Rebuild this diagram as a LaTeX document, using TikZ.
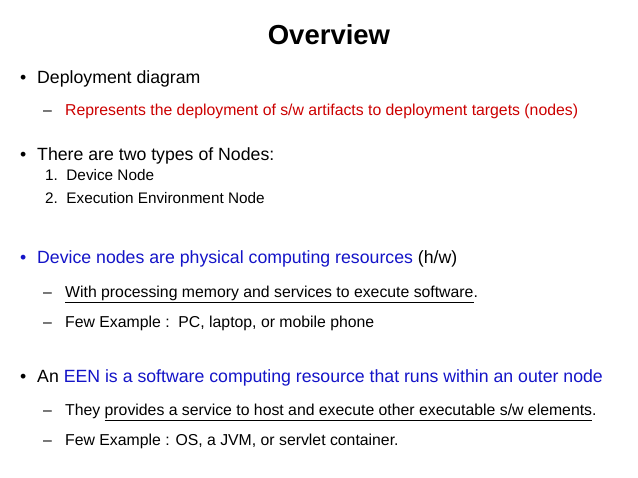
\documentclass[tikz,border=0pt]{standalone}
\usepackage{fontspec}
\setmainfont{Liberation Sans}
\definecolor{tred}{RGB}{204,0,0}
\definecolor{tblue}{RGB}{20,20,200}
\begin{document}
\begin{tikzpicture}[x=1pt,y=-1pt,
  txt/.style={anchor=base west,inner sep=0pt},
  big/.style={txt,font=\fontsize{17.7}{20}\selectfont},
  sub/.style={txt,font=\fontsize{15.8}{18}\selectfont},
  num/.style={txt,font=\fontsize{15.3}{18}\selectfont}]
\useasboundingbox (0,0) rectangle (638,478);
\fill[white] (0,0) rectangle (638,478);
\node[txt,anchor=base,font=\fontsize{27.5}{30}\selectfont\bfseries] (title) at (329,45) {Overview};
\node[big] (b1) at (20,84) {•};
\node[big] (t1) at (37,84) {Deployment diagram};
\node[sub] (d1) at (43,116) {–};
\node[sub,text=tred] (s1) at (65,116) {Represents the deployment of s/w artifacts to deployment targets (nodes)};
\node[big] (b2) at (20,161) {•};
\node[big] (t2) at (37,161) {There are two types of Nodes:};
\node[num] (n1) at (45,181) {1.\ \ Device Node};
\node[num] (n2) at (45,204) {2.\ \ Execution Environment Node};
\node[big,text=tblue] (b3) at (20,264) {•};
\node[big] (t3) at (37,264) {\textcolor{tblue}{Device nodes are physical computing resources} (h/w)};
\node[sub] (d2) at (43,298) {–};
\node[sub] (s2) at (65,298) {\underline{With processing memory and services to execute software}.};
\node[sub] (d3) at (43,328) {–};
\node[sub] (s3) at (65,328) {Few Example :\ \ PC, laptop, or mobile phone};
\node[big] (b4) at (20,383) {•};
\node[big] (t4) at (37,383) {An \textcolor{tblue}{EEN is a software computing resource that runs within an outer node}};
\node[sub] (d4) at (43,416) {–};
\node[sub] (s4) at (65,416) {They \underline{provides a service to host and execute other executable s/w elements}.};
\node[sub] (d5) at (43,446) {–};
\node[sub] (s5) at (65,446) {Few Example : OS, a JVM, or servlet container.};
\end{tikzpicture}
\end{document}
